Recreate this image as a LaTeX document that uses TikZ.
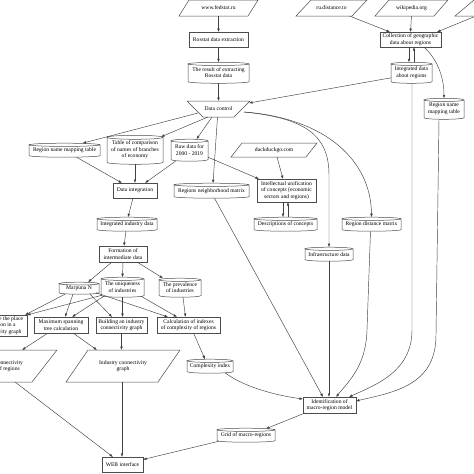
\documentclass[tikz,border=0pt]{standalone}
\usepackage{fontspec}
\setmainfont{Liberation Serif}
\usetikzlibrary{calc,arrows.meta}
\tikzset{
  nd/.style={inner sep=0pt, outer sep=0pt, align=center, font=\fontsize{5.6}{6.5}\selectfont},
  box/.style={nd, draw=black!70, line width=0.5pt},
  shp/.style={draw=black!70, line width=0.5pt},
  ar/.style={draw=black!75, line width=0.45pt, -{Latex[length=3.5pt,width=2.6pt]}},
}
\newcommand\mycyl[2][1.6pt]{%
  \draw[shp] let \p1=(#2.north west), \p2=(#2.south east), \n1={(\x2-\x1)/2} in
  (\x1,\y1-#1) -- (\x1,\y2+#1)
  arc[start angle=180,end angle=360,x radius=\n1,y radius=#1]
  -- (\x2,\y1-#1)
  arc[start angle=0,end angle=180,x radius=\n1,y radius=#1]
  arc[start angle=180,end angle=360,x radius=\n1,y radius=#1];}
\newcommand\mypara[2]{%
  \draw[shp] let \p1=(#1.north west), \p2=(#1.south east) in
  (\x1+#2,\y1) -- (\x2,\y1) -- (\x2-#2,\y2) -- (\x1,\y2) -- cycle;}
\newcommand\mytrap[2]{%
  \draw[shp] let \p1=(#1.north west), \p2=(#1.south east) in
  (\x1,\y1) -- (\x2,\y1) -- (\x2-#2,\y2) -- (\x1+#2,\y2) -- cycle;}
\begin{document}
\begin{tikzpicture}[x=1pt,y=1pt]
\useasboundingbox (0,0) rectangle (474,-474);
\clip (0,0) rectangle (474,-474);
\fill[white] (0,0) rectangle (474,-474);

% nodes
\node[nd, minimum width=79pt, minimum height=16pt] (fed) at (218.5,-8) {www.fedstat.ru};
\node[box, minimum width=59pt, minimum height=15pt] (rde) at (218.5,-39.5) {Rosstat data extraction};
\node[nd, minimum width=61pt, minimum height=21pt] (res) at (218.5,-72.8) {The result of extracting\\Rosstat data};
\node[nd, minimum width=63pt, minimum height=16pt] (dc) at (218.5,-109) {Data control};
\node[nd, minimum width=71pt, minimum height=16pt] (rdt) at (331.5,-8) {ru.distance.to};
\node[nd, minimum width=73pt, minimum height=16pt] (wiki) at (411.5,-8) {wikipedia.org};
\node[nd, minimum width=90pt, minimum height=16pt] (rp) at (500,-8) {};
\node[box, minimum width=61pt, minimum height=15pt] (coll) at (410.5,-39.5) {Collection of geographic\\data about regions};
\node[nd, minimum width=41pt, minimum height=21pt] (ida) at (411.5,-72.8) {Integrated data\\about regions};
\node[nd, minimum width=40pt, minimum height=21pt] (rnr) at (444,-108.8) {Region name\\mapping table};
\node[nd, minimum width=71pt, minimum height=14pt] (rnl) at (64.5,-150.2) {Region name mapping table};
\node[nd, minimum width=56pt, minimum height=29pt] (tab) at (135,-149.8) {Table of comparison\\of names of branches\\of economy};
\node[nd, minimum width=37pt, minimum height=22pt] (raw) at (189.5,-150.2) {Raw data for\\2000 - 2019};
\node[box, minimum width=44pt, minimum height=15pt] (di) at (135,-190.5) {Data integration};
\node[nd, minimum width=75pt, minimum height=15pt] (nbm) at (211.5,-190.7) {Regions neighborhood matrix};
\node[nd, minimum width=86pt, minimum height=14pt] (ddg) at (274,-150) {duckduckgo.com};
\node[box, minimum width=59pt, minimum height=23pt] (iu) at (286.5,-190.5) {Intellectual unification\\of concepts (economic\\sectors and regions)};
\node[nd, minimum width=63pt, minimum height=14pt] (desc) at (285.5,-224.2) {Descriptions of concepts};
\node[nd, minimum width=59pt, minimum height=14pt] (rdm) at (371.5,-224.2) {Region distance matrix};
\node[nd, minimum width=48pt, minimum height=14pt] (inf) at (329,-254.2) {Infrastructure data};
\node[nd, minimum width=60pt, minimum height=14pt] (iid) at (127,-224.2) {Integrated industry data};
\node[box, minimum width=48pt, minimum height=16pt] (form) at (123,-254) {Formation of\\intermediate data};
\node[nd, minimum width=40pt, minimum height=12pt] (mar) at (79,-288.2) {Marpuna N};
\node[nd, minimum width=43pt, minimum height=20pt] (uni) at (122.5,-287.2) {The uniqueness\\of industries};
\node[nd, minimum width=42pt, minimum height=19pt] (prev) at (180,-287.7) {The prevalence\\of industries};
\node[box, minimum width=53pt, minimum height=21pt] (plc) at (0.5,-325.5) {Determine the place\\of region in a\\connectivity graph};
\node[box, minimum width=54pt, minimum height=16pt] (mst) at (61,-325) {Maximum spanning\\tree calculation};
\node[box, minimum width=51pt, minimum height=16pt] (bic) at (121.5,-325) {Building an industry\\connectivity graph};
\node[box, minimum width=63pt, minimum height=16pt] (calc) at (188.5,-325) {Calculation of indexes\\of complexity of regions};
\node[nd, minimum width=97pt, minimum height=32pt] (cor) at (8.5,-366) {Connectivity\\of regions};
\node[nd, minimum width=114pt, minimum height=32pt] (icg) at (123,-366) {Industry connectivity\\graph};
\node[nd, minimum width=46pt, minimum height=14pt] (ci) at (210,-366.2) {Complexity index};
\node[box, minimum width=53pt, minimum height=16pt] (idm) at (329.5,-405) {Identification of\\macro-region model};
\node[nd, minimum width=58pt, minimum height=14pt] (grid) at (246,-435.2) {Grid of macro-regions};
\node[box, minimum width=41pt, minimum height=15pt] (web) at (122.5,-464.5) {WEB interface};

% shapes
\mypara{fed}{10pt}
\mypara{rdt}{15pt}
\mypara{wiki}{14pt}
\mypara{rp}{19pt}
\mypara{ddg}{11pt}
\mypara{cor}{25pt}
\mypara{icg}{22pt}
\mytrap{dc}{16pt}
\mycyl{res}
\mycyl{ida}
\mycyl{rnr}
\mycyl{rnl}
\mycyl[2pt]{tab}
\mycyl{raw}
\mycyl{nbm}
\mycyl{desc}
\mycyl{rdm}
\mycyl{inf}
\mycyl{iid}
\mycyl[1.4pt]{mar}
\mycyl{uni}
\mycyl{prev}
\mycyl{ci}
\mycyl{grid}

% edges
\draw[ar] (fed.south) -- (rde.north);
\draw[ar] (rde.south) -- (res.north);
\draw[ar] (res.south) -- (dc.north);
\draw[ar] ($(rdt.south)+(18,0)$) -- ($(coll.north west)+(10,0)$);
\draw[ar] (wiki.south) -- (coll.north);
\draw[ar] ($(rp.south west)+(21,0)$) -- ($(coll.north east)+(-4,0)$);
\draw[ar] ($(coll.south)+(-1.5,0)$) -- ($(ida.north)+(-2.5,0)$);
\draw[ar] ($(ida.north)+(2.5,0)$) -- ($(coll.south)+(3.5,0)$);
\draw[ar] ($(coll.south east)+(-17,0)$) .. controls (438,-60) and (444,-78) .. (rnr.north);
\draw[ar] ($(ida.west)+(0,-5)$) -- ($(dc.north east)+(-1,-2)$);
\draw[ar] ($(dc.north west)+(11,-12)$) -- ($(rnl.north)+(18,0)$);
\draw[ar] ($(dc.south west)+(21,0)$) -- ($(tab.north east)+(-2,-1.5)$);
\draw[ar] ($(dc.south west)+(25,0)$) -- ($(raw.north)+(7,0)$);
\draw[ar] ($(dc.south)+(-1,0)$) -- ($(nbm.north)+(1.5,0)$);
\draw[ar] ($(dc.north east)+(-6,-11)$) .. controls (305,-118) and (329,-135) .. (329,-175) -- (inf.north);
\draw[ar] ($(dc.north east)+(-6,-11)$) .. controls (325,-118) and (371,-160) .. (rdm.north);
\draw[ar] ($(rnl.south)+(12,0)$) -- ($(di.north west)+(9,0)$);
\draw[ar] (tab.south) -- (di.north);
\draw[ar] ($(raw.south)+(-14,0)$) -- ($(di.north east)+(-12,0)$);
\draw[ar] ($(raw.east)+(0,-7)$) -- ($(iu.north west)+(2,0)$);
\draw[ar] ($(ddg.south)+(3,0)$) -- ($(iu.north)+(-3.5,0)$);
\draw[ar] ($(iu.south)+(-3.5,0)$) -- ($(desc.north)+(-2.5,0)$);
\draw[ar] ($(desc.north)+(2.5,0)$) -- ($(iu.south)+(1.5,0)$);
\draw[ar] ($(di.south)+(-2,0)$) -- ($(iid.north)+(1,0)$);
\draw[ar] ($(iid.south)+(-1,0)$) -- ($(form.north)+(1,0)$);
\draw[ar] ($(form.south)+(-11,0)$) -- ($(mar.north)+(9,0)$);
\draw[ar] (form.south) -- (uni.north);
\draw[ar] ($(form.south)+(14,0)$) -- ($(prev.north)+(-17,0)$);
\draw[ar] ($(mar.south)+(-14,0)$) -- ($(plc.north east)+(-2,0)$);
\draw[ar] ($(mar.south)+(-6,0)$) -- ($(mst.north)+(4,0)$);
\draw[ar] ($(mar.south)+(11,0)$) -- ($(bic.north west)+(16,0)$);
\draw[ar] ($(mar.south east)+(-3,1.5)$) -- ($(calc.north west)+(11,0)$);
\draw[ar] ($(uni.south west)+(1,2)$) -- (plc.north east);
\draw[ar] ($(uni.south west)+(3,1)$) -- ($(mst.north)+(11,0)$);
\draw[ar] (uni.south) -- ($(bic.north)+(1,0)$);
\draw[ar] ($(uni.south east)+(-3,1)$) -- ($(calc.north west)+(20,0)$);
\draw[ar] ($(prev.south)+(3,0)$) -- ($(calc.north)+(-3,0)$);
\draw[ar] ($(mst.south west)+(14,0)$) -- ($(cor.north east)+(-35,0)$);
\draw[ar] ($(mst.south west)+(39,0)$) -- ($(icg.north west)+(31,0)$);
\draw[ar] (bic.south) -- ($(icg.north)+(-1.5,0)$);
\draw[ar] ($(calc.south)+(5,0)$) -- ($(ci.north)+(-5,0)$);
\draw[ar] ($(ci.south east)+(-8,0.5)$) .. controls (245,-388) and (280,-396) .. ($(idm.west)+(0,6)$);
\draw[ar] ($(nbm.south)+(3,0)$) -- ($(idm.north west)+(20,0)$);
\draw[ar] (inf.south) -- ($(idm.north)+(-0.5,0)$);
\draw[ar] ($(rdm.south)+(-1,0)$) -- (367,-330) .. controls (366,-365) and (350,-380) .. ($(idm.north east)+(-20,0)$);
\draw[ar] ($(ida.south)+(0.5,0)$) -- (412,-330) .. controls (412,-372) and (375,-385) .. ($(idm.north east)+(-7,0)$);
\draw[ar] ($(rnr.south)+(-5,0)$) -- (436,-335) .. controls (436,-385) and (395,-392) .. ($(idm.east)+(0,4)$);
\draw[ar] ($(idm.south west)+(2,0)$) -- ($(grid.north east)+(-9,-0.5)$);
\draw[ar] ($(grid.south west)+(2,1)$) -- ($(web.east)+(0,5)$);
\draw[ar] ($(cor.south east)+(-42,0)$) -- ($(web.north west)+(11,0)$);
\draw[ar] ($(icg.south)+(-1,0)$) -- ($(web.north)+(-0.5,0)$);
\end{tikzpicture}
\end{document}
